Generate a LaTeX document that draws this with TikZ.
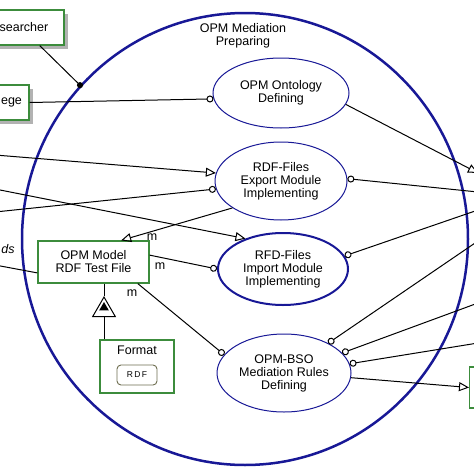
\documentclass[tikz,border=0pt]{standalone}
\usepackage{fontspec}
\setmainfont{Liberation Sans}
\newfontfamily\tagfont[LetterSpace=15]{Liberation Sans}
\usetikzlibrary{positioning, shapes.geometric, arrows.meta, shadows}
\definecolor{opmblue}{RGB}{24,24,150}
\definecolor{opmgreen}{RGB}{60,140,60}
\definecolor{tagedge}{RGB}{110,110,80}

\begin{document}
\begin{tikzpicture}[x=1pt, y=-1pt,
  txt/.style={font=\fontsize{12.5}{13}\selectfont, align=center},
  proc/.style={draw=opmblue, ellipse, line width=1pt, txt, inner sep=0pt},
  obj/.style={draw=opmgreen, line width=1.2pt, txt, fill=white},
  shd/.style={drop shadow={shadow xshift=4pt, shadow yshift=-4pt, fill=black!30, opacity=1}},
  lnk/.style={line width=1pt},
  inst/.style={lnk, -{Circle[open, length=7pt]}},
  result/.style={lnk, -{Triangle[open, length=10pt, width=9pt]}}]
\useasboundingbox (0,0) rectangle (474,474);
\clip (0,0) rectangle (474,474);
\node[draw=opmblue, ellipse, line width=2.5pt, minimum width=446pt, minimum height=452pt] (zone) at (245,239) {};
\node[txt] (title) at (243,36) {OPM Mediation\\Preparing};
\node[proc, minimum width=136pt, minimum height=70pt] (onto) at (281,93) {OPM Ontology\\Defining};
\node[proc, minimum width=132pt, minimum height=78pt] (exp) at (281,181) {RDF-Files\\Export Module\\Implementing};
\node[proc, line width=2pt, minimum width=130pt, minimum height=72pt] (imp) at (283,269) {RFD-Files\\Import Module\\Implementing};
\node[proc, minimum width=134pt, minimum height=78pt] (bso) at (284,373) {OPM-BSO\\Mediation Rules\\Defining};
\node[obj, shd, minimum width=80pt, minimum height=35pt] (res) at (24,27.5) {searcher};
\node[obj, shd, minimum width=35pt, minimum height=35pt] (know) at (11.5,102.5) {ege};
\node[obj, minimum width=111pt, minimum height=42pt] (model) at (93.5,262) {OPM Model\\RDF Test File};
\node[obj, minimum width=74pt, minimum height=53pt] (fmt) at (137,366.5) {};
\node[txt, below=3pt of fmt.north] (fmtname) {Format};
\node[draw=tagedge, line width=0.9pt, rounded corners=4pt, minimum width=40pt, minimum height=20pt,
  font=\tagfont\fontsize{8.5}{9}\selectfont] (rdf) at (137,375) {RDF};
\node[obj, anchor=west, minimum width=60pt, minimum height=41pt] (out) at (469,387.5) {};
\node[draw, line width=1pt, regular polygon, regular polygon sides=3, minimum size=26pt, inner sep=0pt] (tri) at (104,310) {};
\node[fill=black, regular polygon, regular polygon sides=3, minimum size=11pt, inner sep=0pt] (trimark) at (104,307.5) {};
\node[txt] (m1) at (152,237) {m};
\node[txt] (m2) at (160,266) {m};
\node[txt] (m3) at (132,293) {m};
\node[font=\fontsize{12.5}{13}\selectfont\itshape, inner sep=1pt] (ds) at (8,249) {ds};
\coordinate (l1) at (-5,155);
\coordinate (l2) at (-5,189);
\coordinate (l3) at (-5,212);
\coordinate (l4) at (-5,265);
\coordinate (r1) at (478,173);
\coordinate (r2) at (478,192);
\coordinate (r3) at (478,210);
\coordinate (r4) at (478,241);
\coordinate (r5) at (478,303);
\coordinate (r6) at (478,343);
\draw[lnk, -{Circle[length=6pt]}, shorten >=-3pt] (res.-49) -- (zone.137);
\draw[inst] (know.east) -- (onto.185);
\draw[result] (onto.-10) -- (r1);
\draw[result] (l1) -- (exp.173);
\draw[inst] (l3) -- (exp.187);
\draw[inst] (r2) -- (exp.2);
\draw[result] (exp.209) -- (model.38);
\draw[result] (l2) -- (imp.141);
\draw[inst] (model.7) -- (imp.west);
\draw[inst] (r3) -- (imp.12);
\draw[inst] (model.-26) -- (bso.163);
\draw[inst] (r4) -- (bso.34);
\draw[inst] (r5) -- (bso.19);
\draw[inst] (r6) -- (bso.8);
\draw[result] (bso.-4) -- (out.west);
\draw[lnk] (l4) -- (model.191);
\draw[lnk] (tri.corner 1) -- (tri.corner 1 |- model.south);
\draw[lnk] (tri.side 2) -- (tri.side 2 |- fmt.north);
\end{tikzpicture}
\end{document}
